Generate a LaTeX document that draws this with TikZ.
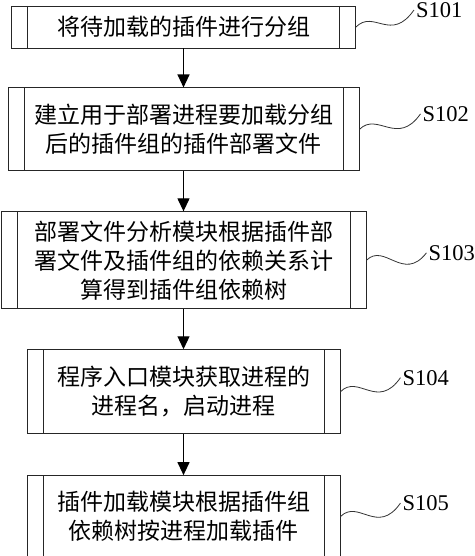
\documentclass[tikz,border=0pt]{standalone}
\usepackage{fontspec}
\setmainfont{Liberation Serif}
\newfontfamily\cjk{Noto Sans CJK SC}
\usetikzlibrary{arrows.meta, positioning}

\begin{document}
\begin{tikzpicture}[
			x=1pt, y=1pt,
			stepbox/.style={rectangle, draw=black!85, line width=0.9pt, align=center,
				font=\cjk\fontsize{23}{29}\selectfont, inner sep=0pt,
				path picture={
					\draw[black!85, line width=0.9pt]
					([xshift=16pt]path picture bounding box.north west) --
					([xshift=16pt]path picture bounding box.south west);
					\draw[black!85, line width=0.9pt]
					([xshift=-16pt]path picture bounding box.north east) --
					([xshift=-16pt]path picture bounding box.south east);}},
			arr/.style={-{Triangle[width=12pt, length=13pt]}, line width=1.2pt},
			steplabel/.style={font=\fontsize{22.5}{24}\selectfont, inner sep=2pt, anchor=west},
			wave/.style={black!80, line width=0.8pt},
			]
			\useasboundingbox (0,0) rectangle (474,-556);
			
			% Blocks
			\node[stepbox, minimum width=344pt, minimum height=42pt] (s101) at (183.5,-27)
			{将待加载的插件进行分组};
			\node[stepbox, minimum width=351pt, minimum height=83pt, below=39pt of s101] (s102)
			{建立用于部署进程要加载分组\\后的插件组的插件部署文件};
			\node[stepbox, minimum width=365pt, minimum height=97pt, below=40pt of s102] (s103)
			{部署文件分析模块根据插件部\\署文件及插件组的依赖关系计\\算得到插件组依赖树};
			\node[stepbox, minimum width=313pt, minimum height=84pt, below=40pt of s103] (s104)
			{程序入口模块获取进程的\\进程名，启动进程};
			\node[stepbox, minimum width=313pt, minimum height=82pt, below=41pt of s104] (s105)
			{插件加载模块根据插件组\\依赖树按进程加载插件};
			
			% Arrows
			\draw[arr] (s101) -- (s102);
			\draw[arr] (s102) -- (s103);
			\draw[arr] (s103) -- (s104);
			\draw[arr] (s104) -- (s105);
			
			% Step labels
			\node[steplabel, right=58pt of s101, yshift=17pt] (l101) {S101};
			\node[steplabel, right=61pt of s102, yshift=15.5pt] (l102) {S102};
			\node[steplabel, right=60pt of s103, yshift=7.5pt] (l103) {S103};
			\node[steplabel, right=60pt of s104, yshift=14pt] (l104) {S104};
			\node[steplabel, right=60pt of s105, yshift=13.5pt] (l105) {S105};
			
			\draw[wave] (s101.east) .. controls +(18,18) and +(-23,-33) .. (l101.west);
			\draw[wave] (s102.east) .. controls +(18,18) and +(-23,-33) .. (l102.west);
			\draw[wave] (s103.east) .. controls +(18,18) and +(-23,-30) .. (l103.west);
			\draw[wave] (s104.east) .. controls +(18,18) and +(-23,-33) .. (l104.west);
			\draw[wave] (s105.east) .. controls +(18,18) and +(-23,-33) .. (l105.west);
		\end{tikzpicture}
\end{document}
